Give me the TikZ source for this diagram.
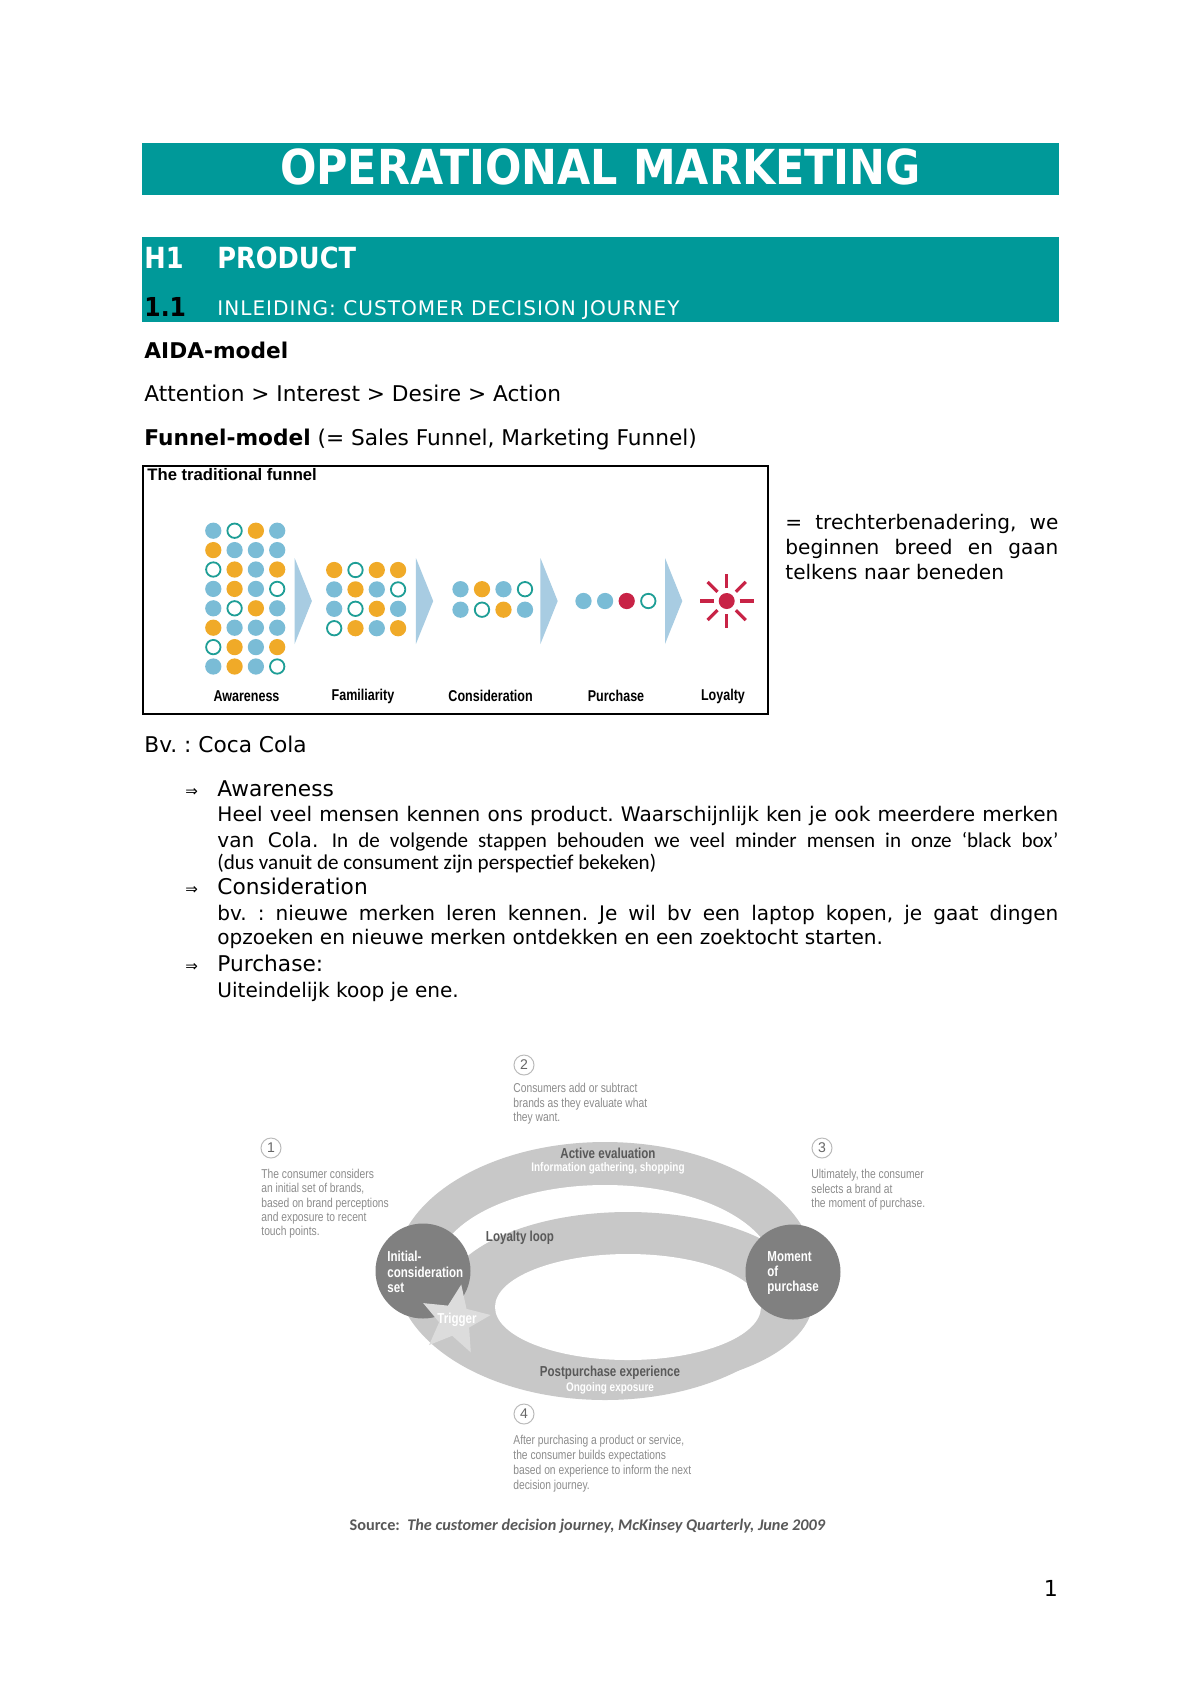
\documentclass[tikz,border=0pt]{standalone}
\usepackage{fontspec}
\setmainfont{DejaVu Sans}
\newfontfamily\calfont{Carlito}
\newfontfamily\arialfont{Liberation Sans}
\newfontfamily\condfont[FakeStretch=0.8]{Liberation Sans}
\newdimen\pxu
\pxu=0.0175cm
\frenchspacing

\begin{document}
\begin{tikzpicture}[x=0.0175cm, y=-0.0175cm,
    txt/.style={anchor=mid west, inner sep=0pt, font=\fontsize{10.8}{13}\selectfont},
    para/.style={anchor=mid west, inner sep=0pt, font=\fontsize{10}{12}\selectfont},
    bartxt/.style={anchor=base west, inner sep=0pt, text=white},
    lbl/.style={inner sep=0pt, font=\condfont\bfseries\fontsize{7.8}{9}\selectfont},
    desc/.style={anchor=mid west, inner sep=0pt, text=descGray, font=\condfont\fontsize{6.4}{7.2}\selectfont},
    ringtxt/.style={inner sep=0pt, font=\condfont\bfseries\fontsize{7.2}{7.7}\selectfont},
    numcirc/.style={circle, draw=numGray, line width=0.5pt, inner sep=0pt, minimum size=0.35cm,
        text=numText, font=\arialfont\fontsize{7}{8}\selectfont}]
    % Page size
    \definecolor{tealBar}{HTML}{009999}
    \definecolor{fillb}{HTML}{7ABCD6}
    \definecolor{lineb}{HTML}{7ABCD6}
    \definecolor{filly}{HTML}{F0AA28}
    \definecolor{liney}{HTML}{F0AA28}
    \definecolor{fillo}{HTML}{FFFFFF}
    \definecolor{lineo}{HTML}{1E9E96}
    \definecolor{fillr}{HTML}{C82346}
    \definecolor{liner}{HTML}{C82346}
    \definecolor{arrowBlue}{HTML}{A8CCE2}
    \definecolor{ringGray}{HTML}{C8C8C8}
    \definecolor{circGray}{HTML}{808080}
    \definecolor{trigGray}{HTML}{DCDCDC}
    \definecolor{darkTxt}{HTML}{595959}
    \definecolor{descGray}{HTML}{8C8C8C}
    \definecolor{numGray}{HTML}{BBBBBB}
    \definecolor{numText}{HTML}{666666}

    \fill[white] (0,0) rectangle (1200,1698);
    \useasboundingbox (0,0) rectangle (1200,1698);

    % Title bars
    \fill[tealBar] (142,142.5) rectangle (1059,194.5);
    \node[anchor=base, inner sep=0pt, text=white, font=\bfseries\fontsize{24}{28}\selectfont] (title) at (600.5,184) {\scalebox{0.89}[1]{OPERATIONAL MARKETING}};
    \fill[tealBar] (142,237) rectangle (1059,322);
    \node[bartxt, font=\bfseries\fontsize{14.5}{17}\selectfont] (hone) at (144,268) {\scalebox{0.88}[1]{H1}};
    \node[bartxt, font=\bfseries\fontsize{14.5}{17}\selectfont] (product) at (217,268) {\scalebox{0.88}[1]{PRODUCT}};
    \node[bartxt, text=black, font=\bfseries\fontsize{13}{15}\selectfont] (sec) at (144,316) {\scalebox{0.9}[1]{1.1}};
    \node[bartxt, font=\fontsize{10}{12}\selectfont\addfontfeatures{LetterSpace=5}] (intro) at (217,315) {INLEIDING: CUSTOMER DECISION JOURNEY};

    % Models
    \node[txt, font=\bfseries\fontsize{10.8}{13}\selectfont] (aida) at (144,353) {AIDA-model};
    \node[txt] (aidasteps) at (144,396) {Attention > Interest > Desire > Action};
    \node[txt] (funnel) at (144,440) {\textbf{Funnel-model} (= Sales Funnel, Marketing Funnel)};

    % Traditional funnel box
    \draw[line width=1.1pt] (143,466) rectangle (768,714);
    \node[anchor=mid west, inner sep=0pt, font=\arialfont\bfseries\fontsize{8.3}{9.6}\selectfont] (tradtitle) at (147,475.4) {The traditional funnel};

    % Awareness dots
    \foreach \c [count=\i from 0] in {b,o,y,b, y,b,b,b, o,y,b,y, b,y,b,o, b,o,y,b, y,b,b,b, o,y,b,y, b,y,b,o}{
        \pgfmathtruncatemacro{\col}{mod(\i,4)}
        \pgfmathtruncatemacro{\row}{div(\i,4)}
        \path[fill=fill\c, draw=line\c, line width=0.9pt] (213.3+21.3*\col, 530.7+19.4*\row) circle (7.2);
    }
    % Familiarity dots
    \foreach \c [count=\i from 0] in {y,o,y,y, b,y,b,o, b,o,y,b, o,y,b,y}{
        \pgfmathtruncatemacro{\col}{mod(\i,4)}
        \pgfmathtruncatemacro{\row}{div(\i,4)}
        \path[fill=fill\c, draw=line\c, line width=0.9pt] (334.2+21.3*\col, 570+19.4*\row) circle (7.2);
    }
    % Consideration dots
    \foreach \c [count=\i from 0] in {b,y,b,o, b,o,y,b}{
        \pgfmathtruncatemacro{\col}{mod(\i,4)}
        \pgfmathtruncatemacro{\row}{div(\i,4)}
        \path[fill=fill\c, draw=line\c, line width=0.9pt] (460.5+21.5*\col, 589.2+20.5*\row) circle (7.2);
    }
    % Purchase dots
    \foreach \c [count=\i from 0] in {b,b,r,o}
        \path[fill=fill\c, draw=line\c, line width=0.9pt] (583.5+21.6*\i, 601) circle (7.2);

    % Loyalty sun
    \coordinate (sun) at (726.7,601);
    \fill[fillr] (sun) circle (8);
    \foreach \a in {0,45,...,315}
        \draw[fillr, line width=1.6pt] ([shift={(sun)}] \a:13) -- ([shift={(sun)}] \a:27);

    % Chevrons
    \foreach \ax in {294.6,415.9,540.4,665}
        \fill[arrowBlue] (\ax,558) -- (\ax+17.3,601) -- (\ax,644) -- cycle;

    % Stage labels
    \node[lbl] (lawa) at (246.5,696) {Awareness};
    \node[lbl] (lfam) at (363,696) {Familiarity};
    \node[lbl] (lcon) at (490.6,696) {Consideration};
    \node[lbl] (lpur) at (616,696) {Purchase};
    \node[lbl] (lloy) at (723,696) {Loyalty};

    % Side text
    \node[para] (side1) at (785,524) {\makebox[273\pxu][s]{= trechterbenadering, we}};
    \node[para] (side2) at (785,549) {\makebox[273\pxu][s]{beginnen breed en gaan}};
    \node[para] (side3) at (785,574) {telkens naar beneden};

    % Example
    \node[txt] (example) at (144,747) {Bv. : Coca Cola};
    \foreach \y [count=\k] in {791,889,966}
        \node[txt, font=\fontsize{7.5}{9}\selectfont] (bullet\k) at (185,\y) {⇒};
    \node[txt] (awa) at (217,791) {Awareness};
    \node[para] (awa1) at (217,815.5) {\makebox[841\pxu][s]{Heel veel mensen kennen ons product. Waarschijnlijk ken je ook meerdere merken}};
    \node[para] (awa2) at (217,841.5) {\makebox[841\pxu][s]{van Cola. {\calfont\fontsize{10.5}{12}\selectfont In de volgende stappen behouden we veel minder mensen in onze ‘black box’}}};
    \node[para, font=\calfont\fontsize{10.5}{12}\selectfont] (awa3) at (217,864) {(dus vanuit de consument zijn perspectief bekeken)};
    \node[txt] (con) at (217,889) {Consideration};
    \node[para] (con1) at (217,915) {\makebox[841\pxu][s]{bv. : nieuwe merken leren kennen. Je wil bv een laptop kopen, je gaat dingen}};
    \node[para] (con2) at (217,939) {opzoeken en nieuwe merken ontdekken en een zoektocht starten.};
    \node[txt] (pur) at (217,966) {Purchase:};
    \node[para] (pur1) at (217,992) {Uiteindelijk koop je ene.};

    % Decision journey ring
    \fill[ringGray] (605,1271) ellipse [x radius=210, y radius=129];
    \fill[white] (605,1271) ellipse [x radius=169, y radius=86];
    \fill[ringGray] (628,1300) ellipse [x radius=185, y radius=88];
    \fill[white] (628,1307) ellipse [x radius=133, y radius=53];
    \fill[circGray] (423,1271) circle (47.5);
    \fill[circGray] (793,1272) circle (47.5);

    % Trigger star
    \coordinate (trigc) at (455,1320);
    \fill[trigGray] ([shift={(trigc)}] -80:36) -- ([shift={(trigc)}] -44:16) -- ([shift={(trigc)}] -8:36)
        -- ([shift={(trigc)}] 28:16) -- ([shift={(trigc)}] 64:36) -- ([shift={(trigc)}] 100:16)
        -- ([shift={(trigc)}] 136:36) -- ([shift={(trigc)}] 172:16) -- ([shift={(trigc)}] 208:36)
        -- ([shift={(trigc)}] 244:16) -- cycle;

    % Ring labels
    \node[ringtxt, text=darkTxt] (active) at (608,1153) {Active evaluation};
    \node[ringtxt, text=white, font=\condfont\bfseries\fontsize{6.2}{7}\selectfont] (info) at (608,1168) {Information gathering, shopping};
    \node[ringtxt, text=darkTxt] (loyal) at (520,1238) {Loyalty loop};
    \node[ringtxt, text=darkTxt] (post) at (610,1373) {Postpurchase experience};
    \node[ringtxt, text=white, font=\condfont\bfseries\fontsize{6.2}{7}\selectfont] (ongoing) at (610,1388) {Ongoing exposure};
    \node[ringtxt, text=white] (trigger) at (457,1320) {Trigger};
    \node[ringtxt, text=white, anchor=west, align=left] (initial) at (387,1272) {Initial-\\consideration\\set};
    \node[ringtxt, text=white, anchor=west, align=left] (moment) at (767,1273) {Moment\\of\\purchase};

    % Step numbers and notes
    \node[numcirc] (n1) at (271,1148) {1};
    \node[numcirc] (n2) at (524,1065) {2};
    \node[numcirc] (n3) at (822,1148) {3};
    \node[numcirc] (n4) at (524,1414) {4};
    \foreach \t [count=\i] in {The consumer considers, {an initial set of brands,}, based on brand perceptions, and exposure to recent, touch points.}
        \node[desc] (note1-\i) at (261,{1173+14.3*(\i-1)}) {\t};
    \foreach \t [count=\i] in {Consumers add or subtract, brands as they evaluate what, they want.}
        \node[desc] (note2-\i) at (513,{1087+14.5*(\i-1)}) {\t};
    \foreach \t [count=\i] in {{Ultimately, the consumer}, selects a brand at, the moment of purchase.}
        \node[desc] (note3-\i) at (811,{1173+14.5*(\i-1)}) {\t};
    \foreach \t [count=\i] in {{After purchasing a product or service,}, the consumer builds expectations, based on experience to inform the next, decision journey.}
        \node[desc] (note4-\i) at (513,{1439+15*(\i-1)}) {\t};

    % Source and page number
    \node[inner sep=0pt, text=darkTxt, font=\calfont\bfseries\fontsize{8.1}{10}\selectfont] (source) at (587.5,1526) {Source:\ \ \itshape The customer decision journey, McKinsey Quarterly, June 2009};
    \node[inner sep=0pt, font=\fontsize{11}{13}\selectfont] (pagenum) at (1051,1588) {1};
\end{tikzpicture}
\end{document}
